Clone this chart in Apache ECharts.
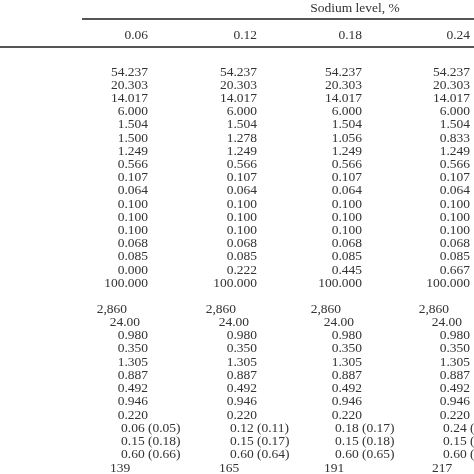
<!DOCTYPE html>
<html><head><meta charset="utf-8">
<script src="https://cdn.jsdelivr.net/npm/echarts@6/dist/echarts.min.js"></script>
<style>html,body{margin:0;padding:0;background:#fff}#c{width:474px;height:474px}</style>
</head><body><div id="c"></div>
<script>
const groupTitle = "Sodium level, %";
const levels = ["0.06", "0.12", "0.18", "0.24"];
const ingredients = [
  ["54.237","54.237","54.237","54.237"],
  ["20.303","20.303","20.303","20.303"],
  ["14.017","14.017","14.017","14.017"],
  ["6.000","6.000","6.000","6.000"],
  ["1.504","1.504","1.504","1.504"],
  ["1.500","1.278","1.056","0.833"],
  ["1.249","1.249","1.249","1.249"],
  ["0.566","0.566","0.566","0.566"],
  ["0.107","0.107","0.107","0.107"],
  ["0.064","0.064","0.064","0.064"],
  ["0.100","0.100","0.100","0.100"],
  ["0.100","0.100","0.100","0.100"],
  ["0.100","0.100","0.100","0.100"],
  ["0.068","0.068","0.068","0.068"],
  ["0.085","0.085","0.085","0.085"],
  ["0.000","0.222","0.445","0.667"],
  ["100.000","100.000","100.000","100.000"]
];
const energy = ["2,860","2,860","2,860","2,860"];
const protein = ["24.00","24.00","24.00","24.00"];
const nutrients = [
  ["0.980","0.980","0.980","0.980"],
  ["0.350","0.350","0.350","0.350"],
  ["1.305","1.305","1.305","1.305"],
  ["0.887","0.887","0.887","0.887"],
  ["0.492","0.492","0.492","0.492"],
  ["0.946","0.946","0.946","0.946"],
  ["0.220","0.220","0.220","0.220"]
];
const analyzed = [
  ["0.06 (0.05)","0.12 (0.11)","0.18 (0.17)","0.24 (0.23)"],
  ["0.15 (0.18)","0.15 (0.17)","0.15 (0.18)","0.15 (0.18)"],
  ["0.60 (0.66)","0.60 (0.64)","0.60 (0.65)","0.60 (0.65)"]
];
const deb = ["139","165","191","217"];

const colX = [148, 257, 362, 470];
const font = '13.5px "Liberation Serif", "DejaVu Serif", serif';
const color = '#333';
const els = [];
function txt(s, x, y, align) {
  els.push({type:'text', x:x, y:y, style:{text:s, font:font, fill:color, textAlign:align||'right', textVerticalAlign:'middle'}});
}
txt(groupTitle, 355, 8, 'center');
els.push({type:'line', shape:{x1:82,y1:19,x2:474,y2:19}, style:{stroke:'#555', lineWidth:2}});
levels.forEach((l,i)=>txt(l, colX[i], 35));
els.push({type:'line', shape:{x1:0,y1:47,x2:474,y2:47}, style:{stroke:'#555', lineWidth:2}});
ingredients.forEach((row,r)=>row.forEach((v,i)=>txt(v, colX[i], 72 + r*13.2)));
const y2 = 309, dy = 13.25;
energy.forEach((v,i)=>txt(v, colX[i]-21, y2));
protein.forEach((v,i)=>txt(v, colX[i]-8, y2+dy));
nutrients.forEach((row,r)=>row.forEach((v,i)=>txt(v, colX[i], y2+(r+2)*dy)));
analyzed.forEach((row,r)=>row.forEach((v,i)=>txt(v, colX[i]-27, y2+(r+9)*dy, 'left')));
deb.forEach((v,i)=>txt(v, colX[i]-38, y2+12*dy, 'left'));

const chart = echarts.init(document.getElementById('c'));
chart.setOption({animation:false, graphic:{elements:els}});
</script></body></html>
